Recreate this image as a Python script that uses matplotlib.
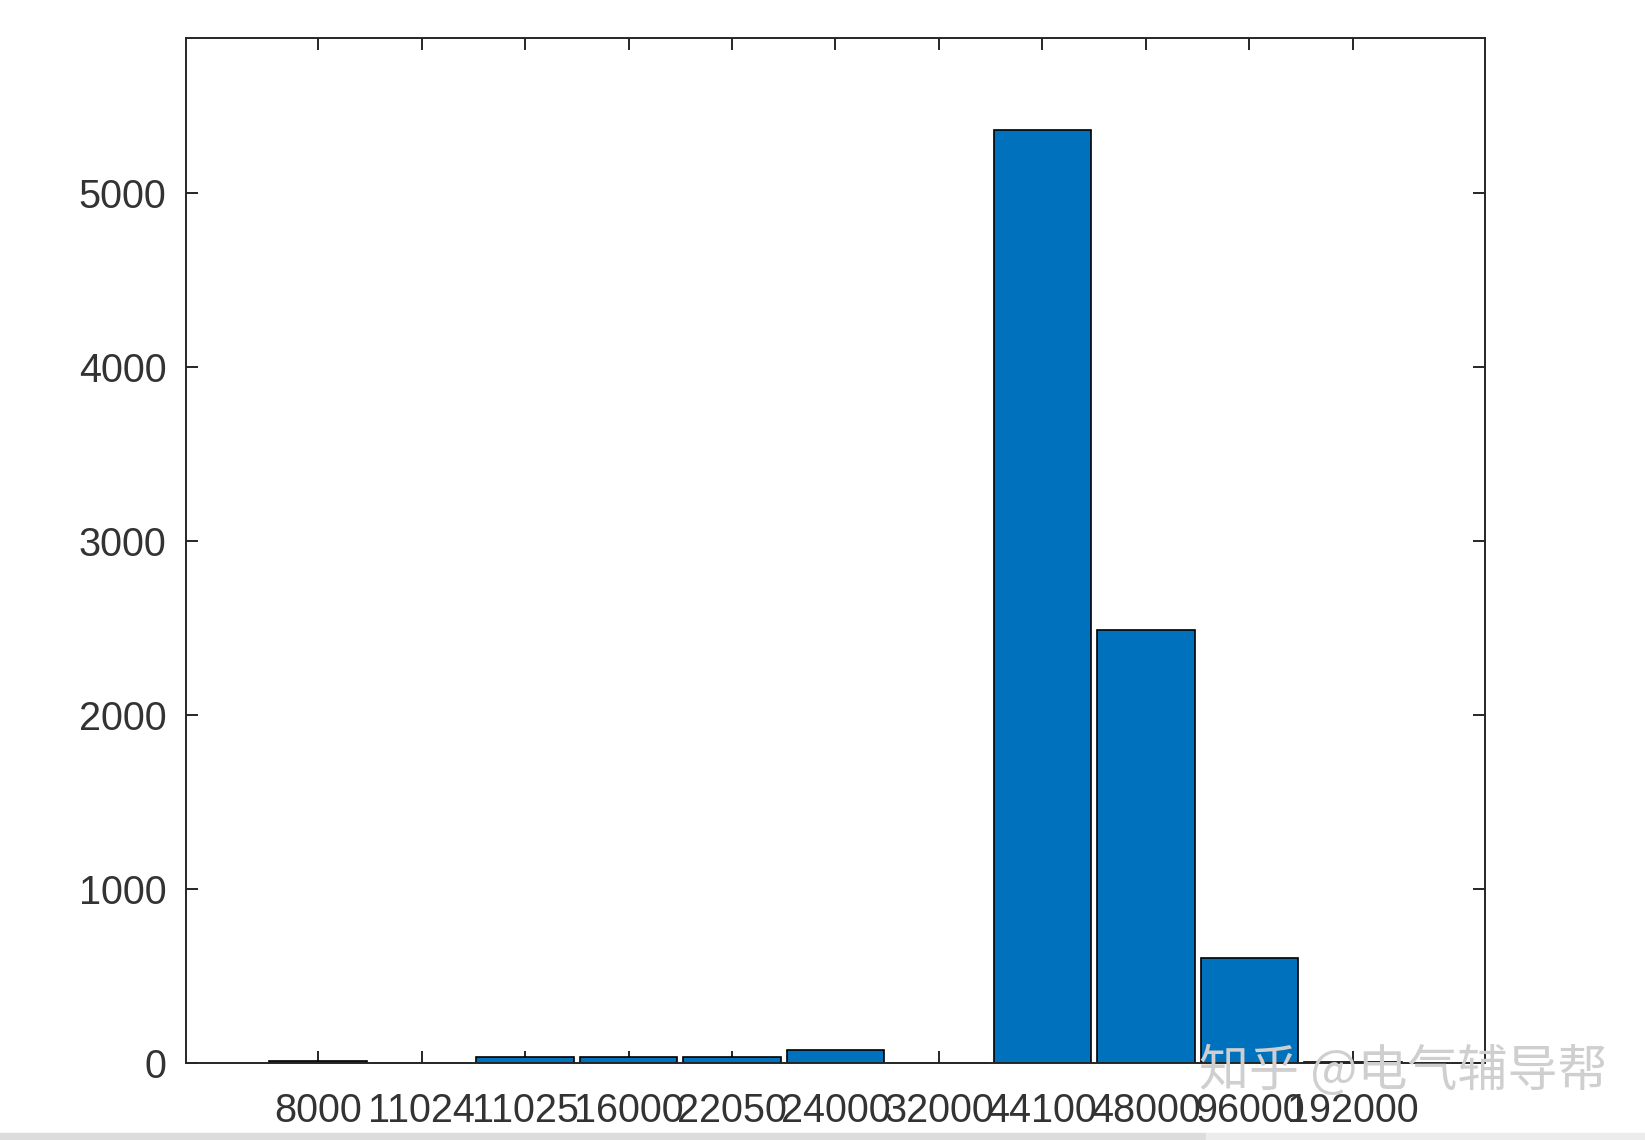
import matplotlib
matplotlib.use("Agg")
from matplotlib import pyplot as plt
from matplotlib.patches import Rectangle
import numpy as np

# sample rates and how many files use each one
rates = ["8000", "11024", "11025", "16000", "22050", "24000",
         "32000", "44100", "48000", "96000", "192000"]
counts = [10, 0, 32, 32, 32, 75, 0, 5360, 2490, 605, 8]
y_ticks = [0, 1000, 2000, 3000, 4000, 5000]

plt.rcParams['font.family'] = ['Liberation Sans', 'DejaVu Sans']

fig = plt.figure(figsize=(16.45, 11.40), dpi=100)
ax = fig.add_axes([0.1131, 0.0675, 0.7896, 0.8992])

x = np.arange(len(rates))
ax.bar(x, counts, width=0.94, color='#0072BD', edgecolor='black', linewidth=1.2, zorder=2)

ax.set_xlim(-1.275, len(rates) - 1 + 1.275)
ax.set_ylim(0, 5890)
ax.set_xticks(x)
ax.set_xticklabels(rates)
ax.set_yticks(y_ticks)

# matlab style box with inward ticks on all sides
axis_col = '#262626'
for s in ax.spines.values():
    s.set_color(axis_col)
    s.set_linewidth(1.4)
    s.set_zorder(3)
ax.tick_params(direction='in', length=8.6, width=1.4, color=axis_col,
               top=True, right=True, labelsize=28.5, labelcolor='#333333')
ax.tick_params(axis='x', pad=21)
ax.tick_params(axis='y', pad=14)

# watermark
fig.text(0.729, 0.0596, "知乎 @电气辅导帮", fontsize=36, color='#cfcfcf',
         family=['Noto Sans CJK SC', 'DejaVu Sans'], va='center', ha='left', zorder=5)

# grey strip at the very bottom of the screenshot
fig.patches.append(Rectangle((0, 0), 0.733, 0.0061, transform=fig.transFigure,
                             color='#dcdcdc', zorder=0))
fig.patches.append(Rectangle((0.733, 0), 0.267, 0.0061, transform=fig.transFigure,
                             color='#ececec', zorder=0))

fig.savefig("out.png", dpi=100)
